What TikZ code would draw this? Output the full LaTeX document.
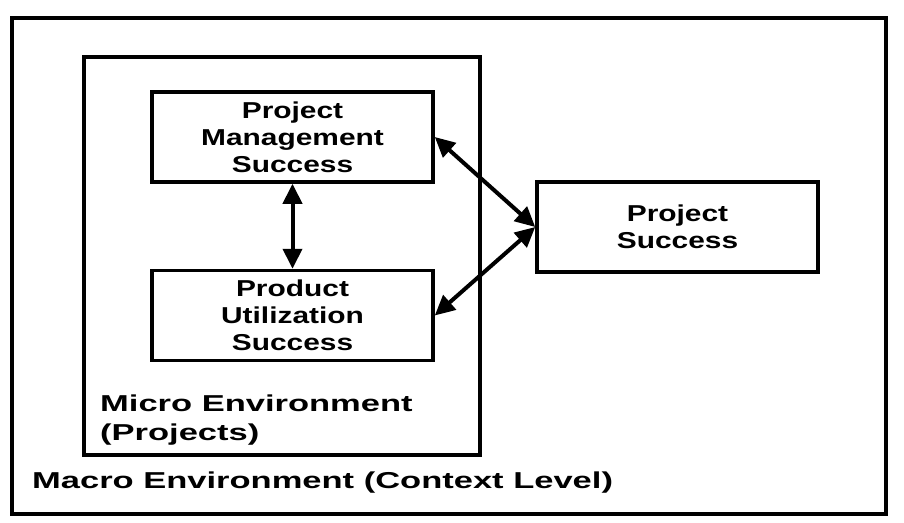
\documentclass[tikz,border=0pt]{standalone}
\usepackage{fontspec}
\setmainfont{Liberation Sans}
\usetikzlibrary{arrows.meta}
\newcommand{\widetxt}[1]{\scalebox{1.3}[1]{#1}}
\newcommand{\widelbl}[1]{\scalebox{1.5}[1]{#1}}
\begin{document}
\begin{tikzpicture}[x=1pt,y=-1pt,
  box/.style={draw,line width=3.5pt,minimum width=281pt,minimum height=90pt,align=center,inner sep=0pt,font=\fontsize{23}{27}\selectfont\bfseries},
  lbl/.style={anchor=west,align=left,font=\fontsize{23}{29}\selectfont\bfseries,inner sep=0pt},
  arr/.style={line width=4pt,{Triangle[length=20pt,width=19pt]}-{Triangle[length=20pt,width=19pt]}}]
\useasboundingbox (0,0) rectangle (904,522);
\draw[line width=3.5pt] (12,18) rectangle (886,514);
\draw[line width=3.5pt] (84,57) rectangle (480,455);
\node[box] (pm) at (292.5,137) {\widetxt{Project}\\\widetxt{Management}\\\widetxt{Success}};
\node[box] (pu) at (292.5,315.5) {\widetxt{Product}\\\widetxt{Utilization}\\\widetxt{Success}};
\node[box] (ps) at (677.5,227) {\widetxt{Project}\\\widetxt{Success}};
\coordinate (c) at (ps.west);
\draw[arr] (pm.south) -- (pu.north);
\draw[arr] (pm.east) -- (c);
\draw[arr] (pu.east) -- (c);
\node[lbl] (mi) at (100,420) {\widelbl{Micro Environment}\\\widelbl{(Projects)}};
\node[lbl] (ma) at (32,483) {\widelbl{Macro Environment (Context Level)}};
\end{tikzpicture}
\end{document}
